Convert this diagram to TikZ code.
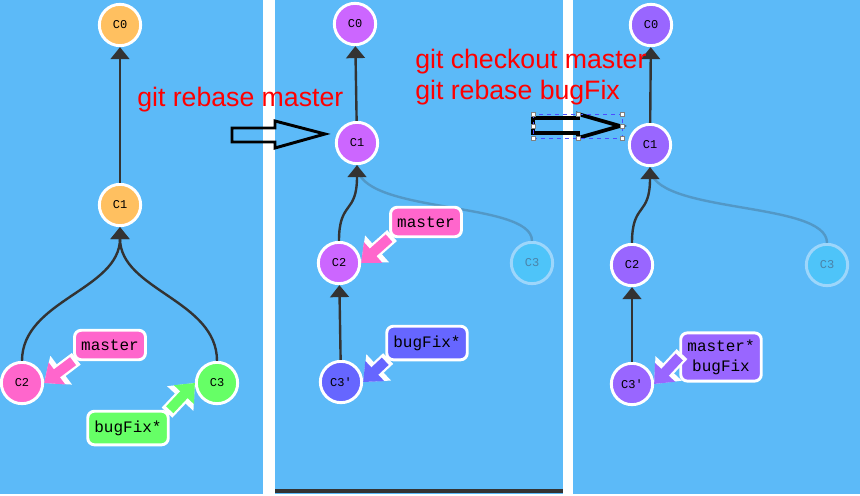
\documentclass[tikz,border=0pt]{standalone}
\usepackage{fontspec}
\setmainfont{Liberation Sans}
\newfontfamily\monofont{Liberation Mono}
\usetikzlibrary{arrows.meta}
\definecolor{bgblue}{HTML}{5CBAF8}
\definecolor{orangec}{HTML}{FFC060}
\definecolor{pinkc}{HTML}{FF66CC}
\definecolor{greenc}{HTML}{66FF66}
\definecolor{purplec}{HTML}{CC66FF}
\definecolor{violetc}{HTML}{9966FF}
\definecolor{bluec}{HTML}{6666FF}
\definecolor{edgec}{HTML}{333333}
\tikzset{commit/.style={draw=white,circle,line width=2.2pt,minimum size=31pt,inner sep=0pt,font=\monofont\fontsize{9}{9}\selectfont}}
\tikzset{ghost/.style={commit,draw=white!40!bgblue,fill=bgblue!85!cyan,text=edgec!40!bgblue}}
\tikzset{branch/.style={draw=white,rounded corners=5pt,line width=2.2pt,inner xsep=5pt,inner ysep=7pt,align=center,font=\monofont\fontsize{12}{15}\selectfont}}
\tikzset{parent/.style={draw=edgec,line width=1.8pt,-{Triangle[length=9pt,width=14pt]}}}
\tikzset{note/.style={text=red,font=\fontsize{20}{22}\selectfont,anchor=west,inner sep=0pt}}
\newcommand{\fatarrow}[3]{%
  \draw[white,line width=11pt,shorten <=-3pt,-{Triangle[length=16pt,width=26pt]}] (#1) -- (#2);
  \draw[#3,line width=7.5pt,-{Triangle[length=12pt,width=20pt]}] (#1) -- (#2);}
\begin{document}
\begin{tikzpicture}[x=0.75pt,y=-0.75pt]
  \useasboundingbox (0,0) rectangle (860,496);
  \fill[white] (0,0) rectangle (860,496);
  \fill[bgblue] (0,0) rectangle (263,494);
  \fill[bgblue] (275,0) rectangle (563,494);
  \fill[bgblue] (573,0) rectangle (860,494);
  \draw[edgec,line width=3pt] (275,491) -- (563,491);

  % panel 1
  \node[commit,fill=orangec] (a0) at (120,25) {C0};
  \node[commit,fill=orangec] (a1) at (120,205) {C1};
  \node[commit,fill=pinkc] (a2) at (22,383) {C2};
  \node[commit,fill=greenc] (a3) at (217,383) {C3};
  \draw[parent] (a1) -- (a0);
  \draw[parent] (a2.north) .. controls (22,300) and (120,290) .. (a1.south);
  \draw[parent] (a3.north) .. controls (217,300) and (120,290) .. (a1.south);
  \node[branch,fill=pinkc] (am) at (110,345) {master};
  \node[branch,fill=greenc] (ab) at (128,428) {bugFix*};
  \fatarrow{am.south west}{a2.east}{pinkc}
  \fatarrow{ab.north east}{a3.west}{greenc}

  % panel 2
  \node[ghost] (b3) at (532,263) {C3};
  \node[commit,fill=purplec] (b0) at (355,24) {C0};
  \node[commit,fill=purplec] (b1) at (357,143) {C1};
  \node[commit,fill=purplec] (b2) at (339,263) {C2};
  \node[commit,fill=bluec] (b3p) at (341,382) {C3'};
  \draw[parent] (b1) -- (b0);
  \draw[edgec!25!bgblue,line width=1.8pt] (b3.north) .. controls (532,200) and (357,215) .. (b1.south);
  \draw[parent] (b2.north) .. controls (339,200) and (357,215) .. (b1.south);
  \draw[parent] (b3p) -- (b2);
  \node[branch,fill=pinkc] (bm) at (426,222) {master};
  \node[branch,fill=bluec] (bb) at (427,343) {bugFix*};
  \fatarrow{bm.south west}{b2.east}{pinkc}
  \fatarrow{bb.south west}{b3p.east}{bluec}

  % panel 3
  \node[ghost] (c3) at (827,265) {C3};
  \node[commit,fill=violetc] (c0) at (651,25) {C0};
  \node[commit,fill=violetc] (c1) at (650,145) {C1};
  \node[commit,fill=violetc] (c2) at (632,265) {C2};
  \node[commit,fill=violetc] (c3p) at (632,384) {C3'};
  \draw[parent] (c1) -- (c0);
  \draw[edgec!25!bgblue,line width=1.8pt] (c3.north) .. controls (827,200) and (650,215) .. (c1.south);
  \draw[parent] (c2.north) .. controls (632,202) and (650,217) .. (c1.south);
  \draw[parent] (c3p) -- (c2);
  \node[branch,fill=violetc,inner ysep=5pt] (cmb) at (721,357) {master*\\bugFix};
  \fatarrow{cmb.west}{c3p.east}{violetc}

  % commands
  \node[note] (t1) at (137,100) {git rebase master};
  \node[note] (t2) at (415,62) {git checkout master};
  \node[note] (t3) at (415,93) {git rebase bugFix};
  \draw[black,line width=2.2pt] (232,128) -- (275,128) -- (275,121) -- (325,134) -- (275,148) -- (275,142) -- (232,142) -- cycle;
  \draw[black,line width=2.8pt] (533,118) -- (578,118) -- (578,114) -- (620,126) -- (578,138) -- (578,133) -- (533,133) -- cycle;
  \draw[blue!70,dashed,line width=0.6pt] (533,114) rectangle (622,138);
  \foreach \hx/\hy in {533/114,578/114,622/114,533/126,622/126,533/138,578/138,622/138}
    \draw[gray,fill=white,line width=0.4pt] (\hx-2,\hy-2) rectangle (\hx+2,\hy+2);
\end{tikzpicture}
\end{document}
